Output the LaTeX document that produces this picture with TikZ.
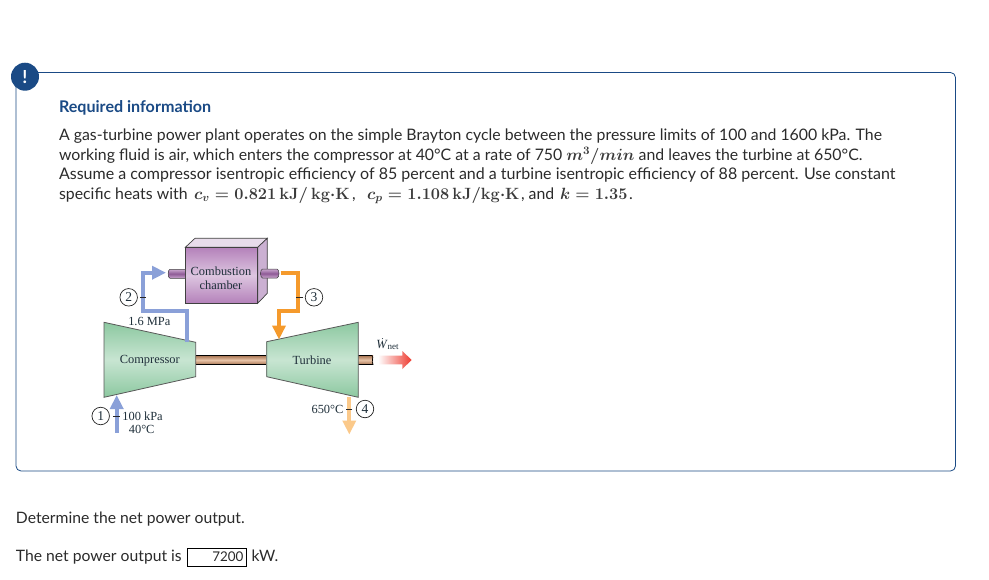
\RequirePackage{fix-cm}
\documentclass[tikz,border=0pt]{standalone}
\usepackage[no-math]{fontspec}
\usepackage{amsmath}
\usetikzlibrary{arrows.meta}
\setmainfont{Lato}
\newfontfamily\lbl{Liberation Serif}
\definecolor{navy}{HTML}{1A4A85}
\definecolor{ink}{HTML}{2B2B2B}
\definecolor{mathink}{HTML}{3A3A3A}
\definecolor{lblink}{HTML}{1F2F3A}
\definecolor{gdark}{HTML}{8CC8A0}
\definecolor{glight}{HTML}{C8E5D2}
\definecolor{pdark}{HTML}{B481BA}
\definecolor{plight}{HTML}{DDC6E0}
\definecolor{ptop}{HTML}{E8DCEB}
\definecolor{pside}{HTML}{CBB0D2}
\definecolor{bluep}{HTML}{8AA0D8}
\definecolor{orangep}{HTML}{F59A2C}
\definecolor{lorange}{HTML}{FBC98A}
\definecolor{redp}{HTML}{EE3B30}
\definecolor{sdark}{HTML}{A87452}
\definecolor{slight}{HTML}{E8C4A8}
\definecolor{pipedark}{HTML}{8E5A96}
\newcommand{\bmath}[1]{{\color{mathink}\fontsize{16.3}{18}\selectfont\boldmath$#1$}}
\tikzset{
 body/.style={anchor=base west,inner sep=0pt,outer sep=0pt,text=ink,font=\fontsize{15.85}{18}\selectfont},
 foot/.style={body,font=\fontsize{15.7}{18}\selectfont},
 lab/.style={inner sep=0pt,outer sep=0pt,text=lblink,font=\lbl\fontsize{12.4}{13}\selectfont,align=center},
 state/.style={circle,draw=black!85,line width=.7pt,minimum size=17.5pt,inner sep=0pt,font=\lbl\fontsize{13.5}{14}\selectfont,text=lblink},
 tick/.style={draw=black!85,line width=.6pt},
 machine/.style={draw=black!65,line width=.8pt,top color=gdark,bottom color=gdark,middle color=glight},
 pipe/.style={line width=4pt,miter limit=10},
 fl/.style={-{Triangle[length=#1,width=13pt]}},
 fl/.default=14pt
}
\begin{document}
\begin{tikzpicture}[x=1pt,y=-1pt]
\useasboundingbox[fill=white] (0,0) rectangle (989,579);
% card
\draw[navy,line width=.8pt,rounded corners=5pt] (16,72.5) rectangle (955.5,471);
\node[circle,fill=navy,minimum size=28pt,inner sep=0pt,text=white,font=\bfseries\fontsize{18}{18}\selectfont] (alert) at (25,76.7) {!};
% texts
\node[body,text=navy,font=\bfseries\fontsize{16.1}{18}\selectfont] (head) at (59,112.7) {Required information};
\node[body] (l1) at (59,140) {A gas-turbine power plant operates on the simple Brayton cycle between the pressure limits of 100 and 1600 kPa. The};
\node[body] (l2) at (59,160) {working fluid is air, which enters the compressor at 40°C at a rate of 750 \bmath{m^3/min} and leaves the turbine at 650°C.};
\node[body,font=\fontsize{16}{18}\selectfont] (l3) at (59,179) {Assume a compressor isentropic efficiency of 85 percent and a turbine isentropic efficiency of 88 percent. Use constant};
\node[body] (l4) at (59,199) {specific heats with};
\node[body] (m1) at (194,199) {\bmath{c_v=0.821\,\mathbf{kJ}/\,\mathbf{kg{\cdot}K}}};
\node[body] (c1) at (352,199) {,};
\node[body] (m2) at (367,199) {\bmath{c_p=1.108\,\mathbf{kJ/kg{\cdot}K}}};
\node[body] (and) at (521,199) {, and};
\node[body] (m3) at (560,199) {\bmath{k=1.35}};
\node[body] (dot) at (629,199) {.};
\node[foot] (q) at (16,523.5) {Determine the net power output.};
\node[foot] (a) at (16,561) {The net power output is};
\node[draw=black,line width=.8pt,minimum width=59pt,minimum height=18pt,inner sep=0pt,outer sep=0pt] (box) at (217.2,557.3) {};
\node[body,anchor=base east,font=\fontsize{13.4}{18}\selectfont] (val) at (243.5,561) {7200};
\node[foot] (unit) at (251.5,561) {kW.};
% shaft
\shade[top color=sdark,bottom color=sdark,middle color=slight] (195.7,355.5) rectangle (266.7,364.5);
\draw[black,line width=.7pt] (195.7,355.5) -- (266.7,355.5) (195.7,364.5) -- (266.7,364.5);
% output stub
\shade[top color=sdark,bottom color=sdark,middle color=slight] (358,355.5) rectangle (373,364.5);
\draw[black,line width=.7pt] (358,355.5) -- (372,355.5) .. controls (374,358) and (371,361) .. (373,364.5) -- (358,364.5);
% compressor and turbine
\path[machine] (104,322.3) -- (195.7,342.3) -- (195.7,376.7) -- (104,397.3) -- cycle;
\path[machine] (266.7,341.7) -- (358.3,322.3) -- (358.3,397.3) -- (266.7,376.7) -- cycle;
% chamber
\path[fill=ptop,draw=black!75,line width=.7pt] (185.3,247.3) -- (195,238.3) -- (267.3,238.3) -- (257.7,247.3) -- cycle;
\path[fill=pside,draw=black!75,line width=.7pt] (257.7,247.3) -- (267.3,238.3) -- (267.3,293.3) -- (257.7,303.3) -- cycle;
\path[draw=black!75,line width=.7pt,top color=pdark,bottom color=pdark,middle color=plight] (185.3,247.3) rectangle (257.7,303.3);
% chamber pipes
\path[draw=black!75,line width=.5pt,top color=pdark!70,bottom color=pdark!70,middle color=pipedark] (170,269.3) -- (185.3,269.3) -- (185.3,278.3) -- (170,278.3) arc[start angle=270,end angle=90,x radius=1.8pt,y radius=4.5pt] -- cycle;
\path[draw=black!75,line width=.5pt,top color=pdark!70,bottom color=pdark!70,middle color=pipedark] (262.5,269) -- (277,269) arc[start angle=90,end angle=-90,x radius=2pt,y radius=4.5pt] -- (262.5,278) arc[start angle=270,end angle=90,x radius=2pt,y radius=4.5pt] -- cycle;
% flow coordinates
\coordinate (c1) at (116.7,432.5);
\coordinate (c1t) at (116.7,395);
\coordinate (c2s) at (187.3,342);
\coordinate (c2a) at (187.3,310.7);
\coordinate (c2b) at (142.7,310.7);
\coordinate (c2c) at (142.7,272.7);
\coordinate (c2t) at (166,272.7);
\coordinate (c3s) at (280.7,272.7);
\coordinate (c3a) at (298,272.7);
\coordinate (c3b) at (298,311);
\coordinate (c3c) at (279,311);
\coordinate (c3t) at (279,339.5);
\coordinate (c4s) at (349.3,397);
\coordinate (c4t) at (349.3,434.5);
% flows
\draw[pipe,bluep,fl] (c1) -- (c1t);
\draw[pipe,bluep,fl] (c2s) -- (c2a) -- (c2b) -- (c2c) -- (c2t);
\draw[pipe,orangep,fl] (c3s) -- (c3a) -- (c3b) -- (c3c) -- (c3t);
\draw[pipe,lorange,fl] (c4s) -- (c4t);
% net work arrow
\shade[left color=white,right color=redp] (378,355.7) -- (402.3,355.7) -- (402.3,351) -- (411.7,360) -- (402.3,369) -- (402.3,364.3) -- (378,364.3) -- cycle;
% states
\node[state] (s2) at (128.7,297.3) {2};
\node[state] (s1) at (100.7,416) {1};
\node[state] (s3) at (314,297.3) {3};
\node[state] (s4) at (365,409) {4};
\draw[tick] (s2.east) ++(2,0) -- ++(6.5,0);
\draw[tick] (s1.east) ++(3.5,0) -- ++(7,0);
\draw[tick] (s3.west) ++(-1.5,0) -- ++(-7,0);
\draw[tick] (s4.west) ++(-3.5,0) -- ++(-6,0);
% labels
\node[lab] (p2) at (149.3,321) {1.6 MPa};
\node[lab] (comp) at (149.8,361) {Compressor};
\node[lab] (cc1) at (221,271) {Combustion};
\node[lab] (cc2) at (221,285.3) {chamber};
\node[lab] (p1) at (142.5,416) {100 kPa};
\node[lab] (t1) at (141.7,429.3) {40°C};
\node[lab] (turb) at (312,360.3) {Turbine};
\node[lab] (t4) at (327.5,409.8) {650°C};
\node[lab,font=\lbl\fontsize{12.5}{13}\selectfont] (w) at (382,344.5) {\textit{W}};
\node[lab,font=\lbl\fontsize{9}{9}\selectfont] (wnet) at (393,347.5) {net};
\fill[lblink] (382.5,338.6) circle[radius=.6pt];
\end{tikzpicture}
\end{document}
